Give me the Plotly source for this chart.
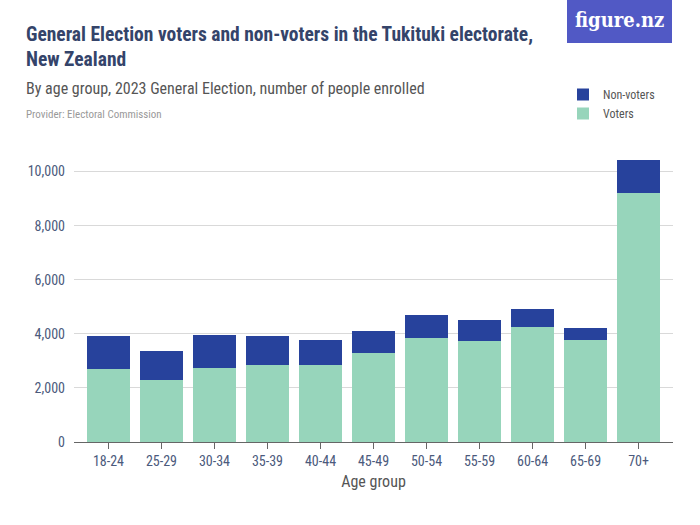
import plotly.graph_objects as go

age_groups = ["18-24", "25-29", "30-34", "35-39", "40-44", "45-49", "50-54", "55-59", "60-64", "65-69", "70+"]
voters = [2700, 2305, 2740, 2863, 2863, 3296, 3837, 3752, 4270, 3763, 9196]
non_voters = [1237, 1051, 1234, 1074, 926, 800, 867, 767, 656, 459, 1248]
y_ticks = [0, 2000, 4000, 6000, 8000, 10000]
y_tick_labels = ["0", "2,000", "4,000", "6,000", "8,000", "10,000"]

FONT = "Liberation Sans Narrow, Roboto Condensed, Roboto, sans-serif"
TICK_COLOR = "#4b5a7c"

H = 525; top = 158; bottom = 83; plot_h = H - top - bottom
W = 700; left = 74; right = 27; plot_w = W - left - right
def py(px):
    return (H - bottom - px) / plot_h
def pxx(px):
    return (px - left) / plot_w

fig = go.Figure()
fig.add_trace(go.Bar(name="Voters", x=age_groups, y=voters, marker_color="#97d5bb",
                     marker_line_width=0, width=0.8))
fig.add_trace(go.Bar(name="Non-voters", x=age_groups, y=non_voters, marker_color="#27429c",
                     marker_line_width=0, width=0.8))

fig.update_layout(
    width=W, height=H,
    barmode="stack",
    plot_bgcolor="white", paper_bgcolor="white",
    margin=dict(l=left, r=right, t=top, b=bottom),
    font=dict(family=FONT, color=TICK_COLOR),
    showlegend=True,
    legend=dict(traceorder="reversed", xref="paper", yref="paper",
                x=pxx(563), y=py(80), yanchor="top", xanchor="left",
                font=dict(size=12, color="#555555", family=FONT),
                bgcolor="rgba(0,0,0,0)", itemwidth=30, tracegroupgap=0),
    xaxis=dict(range=[-0.65, 10.65], showline=True, linecolor="#666666", linewidth=1,
               ticks="outside", ticklen=6, tickcolor="#666666",
               tickfont=dict(size=14, color=TICK_COLOR, family=FONT),
               title=dict(text="Age group", font=dict(size=16, color="#555555", family=FONT), standoff=8),
               showgrid=False),
    yaxis=dict(range=[0, 10500], tickvals=y_ticks, ticktext=y_tick_labels,
               showgrid=True, gridcolor="#d9d9d9", gridwidth=1, zeroline=False,
               tickfont=dict(size=14, color=TICK_COLOR, family=FONT), ticks="", ticklabelstandoff=8),
)

fig.add_annotation(text="General Election voters and non-voters in the Tukituki electorate,<br>New Zealand",
                   xref="paper", yref="paper", x=pxx(24), y=py(21), xanchor="left", yanchor="top",
                   showarrow=False, align="left",
                   font=dict(size=19.5, color="#34446a", family=FONT, weight="bold"))
fig.add_annotation(text="By age group, 2023 General Election, number of people enrolled",
                   xref="paper", yref="paper", x=pxx(24), y=py(77), xanchor="left", yanchor="top",
                   showarrow=False, align="left", font=dict(size=16, color="#555555", family=FONT))
fig.add_annotation(text="Provider: Electoral Commission",
                   xref="paper", yref="paper", x=pxx(24), y=py(106), xanchor="left", yanchor="top",
                   showarrow=False, align="left", font=dict(size=11, color="#999999", family=FONT))

# logo
fig.add_shape(type="rect", xref="paper", yref="paper", x0=pxx(567), x1=pxx(672), y0=py(0), y1=py(43),
              fillcolor="#5159c5", line_width=0, layer="above")
fig.add_annotation(text="<b>figure.nz</b>", xref="paper", yref="paper", x=pxx(619.5), y=py(20),
                   xanchor="center", yanchor="middle", showarrow=False,
                   font=dict(size=20, color="white", family="DejaVu Serif Condensed, Liberation Serif, serif"))

fig.write_html("out.html")
